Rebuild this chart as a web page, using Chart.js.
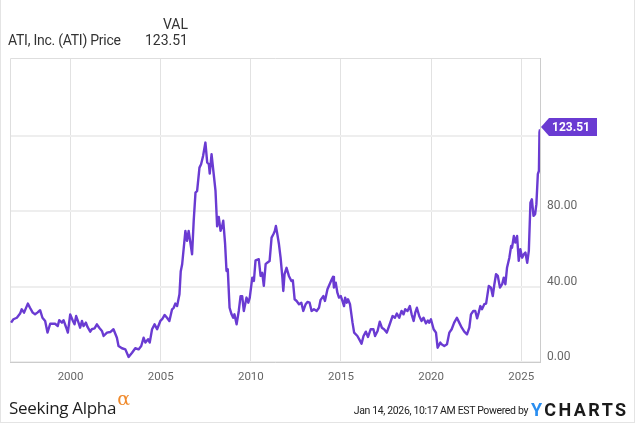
<!DOCTYPE html>
<html>
<head>
<meta charset="utf-8">
<script src="https://cdn.jsdelivr.net/npm/chart.js@4.4.1/dist/chart.umd.min.js"></script>
<style>
  html, body { margin:0; padding:0; background:#fff; }
  body { width:635px; height:424px; position:relative; overflow:hidden; font-family:Roboto, "Liberation Sans", sans-serif; }
  #frame { position:absolute; left:0; top:0; width:633px; height:422px; border:1px solid #e4e4e4; border-top:none; }
  #c { position:absolute; left:0; top:0; }
  .t { position:absolute; white-space:nowrap; color:#333; }
</style>
</head>
<body>
<div id="frame"></div>
<canvas id="c" width="635" height="424"></canvas>
<div class="t" style="left:140px;width:48px;text-align:right;top:16px;font-size:14px;line-height:16px;">VAL</div>
<div class="t" style="left:8px;top:32px;font-size:14px;line-height:16px;letter-spacing:-0.25px;">ATI, Inc. (ATI) Price</div>
<div class="t" style="left:128px;width:60px;text-align:right;top:32px;font-size:14px;line-height:16px;" id="lastVal"></div>
<div class="t" style="left:9px;top:396px;font-family:'Open Sans',sans-serif;font-size:17px;line-height:22px;color:#1d1d1d;letter-spacing:-0.3px;">Seeking Alpha<span style="position:relative;top:-9px;left:1px;color:#f08a2c;font-family:'DejaVu Serif',serif;font-size:19px;">α</span></div>
<div class="t" style="left:300px;width:228px;text-align:right;top:404px;font-size:10.5px;line-height:14px;color:#222;letter-spacing:-0.35px;">Jan 14, 2026, 10:17 AM EST Powered by</div>
<div class="t" style="left:531px;top:400px;font-size:18px;line-height:20px;font-weight:bold;letter-spacing:2.4px;color:#1a1a1a;"><span style="color:#2a8ef0;">Y</span>CHARTS</div>
<script>
const dates = [
  1996.70,1996.83,1997.02,1997.20,1997.29,1997.42,1997.63,1997.75,1997.90,1998.03,1998.16,1998.31,1998.44,1998.59,1998.72,1998.87,
  1999.14,1999.29,1999.37,1999.52,1999.61,1999.76,1999.85,1999.98,2000.13,2000.22,2000.31,2000.44,2000.53,2000.63,2000.72,2000.85,2000.94,
  2001.09,2001.18,2001.33,2001.46,2001.59,2001.74,2001.83,2002.02,2002.20,2002.38,2002.57,2002.66,2002.85,
  2003.04,2003.22,2003.41,2003.59,2003.77,2003.92,2004.05,2004.15,2004.30,2004.39,2004.52,2004.66,2004.80,2004.98,
  2005.08,2005.22,2005.35,2005.48,2005.63,2005.72,2005.81,2005.91,2006.04,2006.11,2006.19,2006.37,2006.46,2006.55,2006.74,2006.83,2006.93,
  2007.02,2007.15,2007.24,2007.35,2007.48,2007.58,2007.67,2007.72,2007.82,2007.94,2008.04,2008.13,2008.22,2008.32,2008.41,2008.47,2008.57,2008.65,2008.72,2008.82,2008.93,
  2009.02,2009.09,2009.21,2009.33,2009.43,2009.52,2009.61,2009.76,2009.86,2009.94,2010.08,2010.17,2010.26,2010.44,2010.54,2010.63,2010.72,2010.82,2010.91,
  2011.04,2011.15,2011.25,2011.33,2011.39,2011.47,2011.56,2011.65,2011.75,2011.80,2011.87,2011.98,2012.11,2012.25,2012.33,2012.43,2012.54,2012.67,2012.80,2012.91,
  2013.04,2013.14,2013.26,2013.37,2013.50,2013.65,2013.78,2013.87,2014.02,2014.11,2014.25,2014.37,2014.49,2014.56,2014.61,2014.71,2014.80,2014.89,2014.99,
  2015.08,2015.17,2015.23,2015.32,2015.39,2015.50,2015.64,2015.73,2015.91,2016.06,2016.14,2016.25,2016.38,2016.50,2016.65,2016.80,2016.89,
  2017.03,2017.15,2017.27,2017.39,2017.54,2017.67,2017.86,2017.99,2018.10,2018.23,2018.36,2018.47,2018.56,2018.69,2018.82,2018.92,
  2019.03,2019.12,2019.21,2019.34,2019.47,2019.58,2019.71,2019.82,2019.89,2019.99,2020.14,2020.27,2020.36,2020.51,2020.58,2020.73,2020.88,
  2021.01,2021.14,2021.28,2021.43,2021.56,2021.70,2021.84,2021.99,2022.12,2022.21,2022.34,2022.45,2022.55,2022.64,2022.73,2022.82,2022.95,
  2023.05,2023.20,2023.32,2023.42,2023.51,2023.60,2023.70,2023.82,2023.94,2024.03,2024.12,2024.21,2024.34,2024.44,2024.49,2024.59,2024.67,2024.77,2024.86,2024.95,
  2025.05,2025.14,2025.23,2025.33,2025.42,2025.51,2025.59,2025.68,2025.77,2025.84,2025.92,2025.98,2026.01,2026.04
];
const prices = [
  20.9,22.7,23.5,25.7,28,26.2,31,28.8,26.2,25.3,26.2,27.5,23.5,21.8,15.6,20.3,
  20.3,19.1,22.2,20.9,22.2,18.2,15.6,25.3,21.8,20,24.4,20.9,18.2,21.8,19.1,20.9,18.6,
  16.1,17.4,17.9,20,18.2,16.5,13.8,15.6,15.9,17.4,12.9,8.5,7.3,
  6.7,2.7,4.9,7.3,6.7,8.5,12.9,10.3,12.1,10.3,17.4,20,17.4,21.8,
  22.7,25,23.5,21.8,28,28.8,31,29.7,36,48,51.9,69.6,64.3,69.6,57.2,74.9,89.9,
  90.8,103.2,105,109.4,116.5,105.9,105,100,110.3,99.7,90.8,72,77,69.6,72.2,75,63,48.3,49.2,28.8,25.3,
  23.5,25.3,20,27.1,35,35,27.1,34.2,31.5,34.2,44.8,43,54,54.6,45.7,47.4,40.4,51.9,52.7,
  53.6,66,67.8,69.6,72.2,67.8,62.5,55.4,44.8,37.7,46.6,50,45.7,43,43.4,33.3,32.4,30.7,31.5,27.1,
  30.7,31.9,31.5,27.1,28,27.1,28.8,33,35,32.4,38.6,41.3,43.9,45.2,39.5,42.1,36.8,34.2,35,
  32.4,29.7,34.2,31.5,33.3,30.7,20.9,15.6,13.8,11.2,9.7,13.8,16.1,13.3,17.4,17.4,13.8,
  16.5,21.4,18.2,17.4,15.6,19.1,24.4,23.5,25.7,23.5,27.1,25.3,28,27.1,29.7,25.3,
  21.8,26.2,28.8,24.4,21.8,23.5,20.5,22,20.9,22.7,17.4,15.6,7.6,10.3,9.4,8.5,9.4,
  15.6,17.4,20.9,23.5,20.9,18.2,16.1,14.7,18.2,25.3,27.1,27.1,23.2,26.2,29.7,28,30.7,
  31,40.4,39.5,35,41.3,46.6,45.7,39.5,41.3,44.8,41.3,50,55.4,61.6,60.7,66.9,63.4,66.9,53.7,59.9,
  55.4,57.2,58.1,52.7,59,84.6,86.4,77.6,78.5,83.8,99.7,101.5,122,123.51
];
const yearTicks = [2000, 2005, 2010, 2015, 2020, 2025];
const priceTicks = [0, 40, 80, 120];
const priceTickLabels = ['0.00', '40.00', '80.00', ''];   // 120.00 is hidden by the value tag
const seriesName = 'ATI, Inc. (ATI) Price';

const LINE_COLOR = '#6a3bd2';
const n = Math.min(dates.length, prices.length);
const points = [];
for (let i = 0; i < n; i++) points.push({ x: dates[i], y: prices[i] });
const lastPrice = prices[n - 1];
document.getElementById('lastVal').textContent = lastPrice.toFixed(2);

const framePlugin = {
  id: 'frame',
  beforeDatasetsDraw(chart) {
    const { ctx, chartArea: a } = chart;
    ctx.save();
    ctx.strokeStyle = '#dedede';
    ctx.lineWidth = 1;
    ctx.beginPath();
    ctx.moveTo(a.left + 0.5, a.bottom);
    ctx.lineTo(a.left + 0.5, a.top + 0.5);
    ctx.lineTo(a.right, a.top + 0.5);
    ctx.stroke();
    ctx.restore();
  }
};

const tagPlugin = {
  id: 'lastTag',
  afterDatasetsDraw(chart) {
    const meta = chart.getDatasetMeta(0);
    const pt = meta.data[meta.data.length - 1];
    if (!pt) return;
    const ctx = chart.ctx;
    const x = chart.chartArea.right + 1, y = Math.round(pt.y) - 2;
    const h = 9, w = 56, arrow = 8;
    ctx.save();
    ctx.fillStyle = LINE_COLOR;
    ctx.beginPath();
    ctx.moveTo(x, y);
    ctx.lineTo(x + arrow, y - h);
    ctx.lineTo(x + w, y - h);
    ctx.lineTo(x + w, y + h);
    ctx.lineTo(x + arrow, y + h);
    ctx.closePath();
    ctx.fill();
    ctx.fillStyle = '#fff';
    ctx.font = 'bold 12px Roboto';
    ctx.textBaseline = 'middle';
    ctx.textAlign = 'left';
    ctx.fillText(lastPrice.toFixed(2), x + 11, y + 0.5);
    ctx.restore();
  }
};

new Chart(document.getElementById('c'), {
  type: 'line',
  data: {
    datasets: [{
      label: seriesName,
      data: points,
      borderColor: LINE_COLOR,
      borderWidth: 2.4,
      borderJoinStyle: 'round',
      pointRadius: 0,
      tension: 0,
      fill: false
    }]
  },
  options: {
    responsive: false,
    animation: false,
    events: [],
    layout: { padding: { left: 10, top: 58, right: 0, bottom: 0 } },
    plugins: { legend: { display: false }, tooltip: { enabled: false } },
    scales: {
      x: {
        type: 'linear',
        min: 1996.64,
        max: 2026.04,
        afterBuildTicks: s => { s.ticks = yearTicks.map(v => ({ value: v })); },
        afterFit: s => { s.height = 62; },
        grid: { color: '#e2e2e2', lineWidth: 1, drawTicks: false },
        border: { display: true, color: '#cccccc' },
        ticks: {
          padding: 8, color: '#666', maxRotation: 0, autoSkip: false,
          font: { family: 'Roboto', size: 11.5 },
          callback: v => String(v)
        }
      },
      y: {
        position: 'right',
        min: 0,
        max: 161.4,
        afterBuildTicks: s => { s.ticks = priceTicks.map(v => ({ value: v })); },
        afterFit: s => { s.width = 95; },
        grid: { color: '#eeeeee', lineWidth: 2, drawTicks: false },
        border: { display: true, color: '#cccccc' },
        ticks: {
          padding: 7, labelOffset: -5, color: '#666',
          font: { family: 'Roboto', size: 12 },
          callback: v => { const i = priceTicks.indexOf(v); return i >= 0 ? priceTickLabels[i] : ''; }
        }
      }
    }
  },
  plugins: [framePlugin, tagPlugin]
});
</script>
</body>
</html>
